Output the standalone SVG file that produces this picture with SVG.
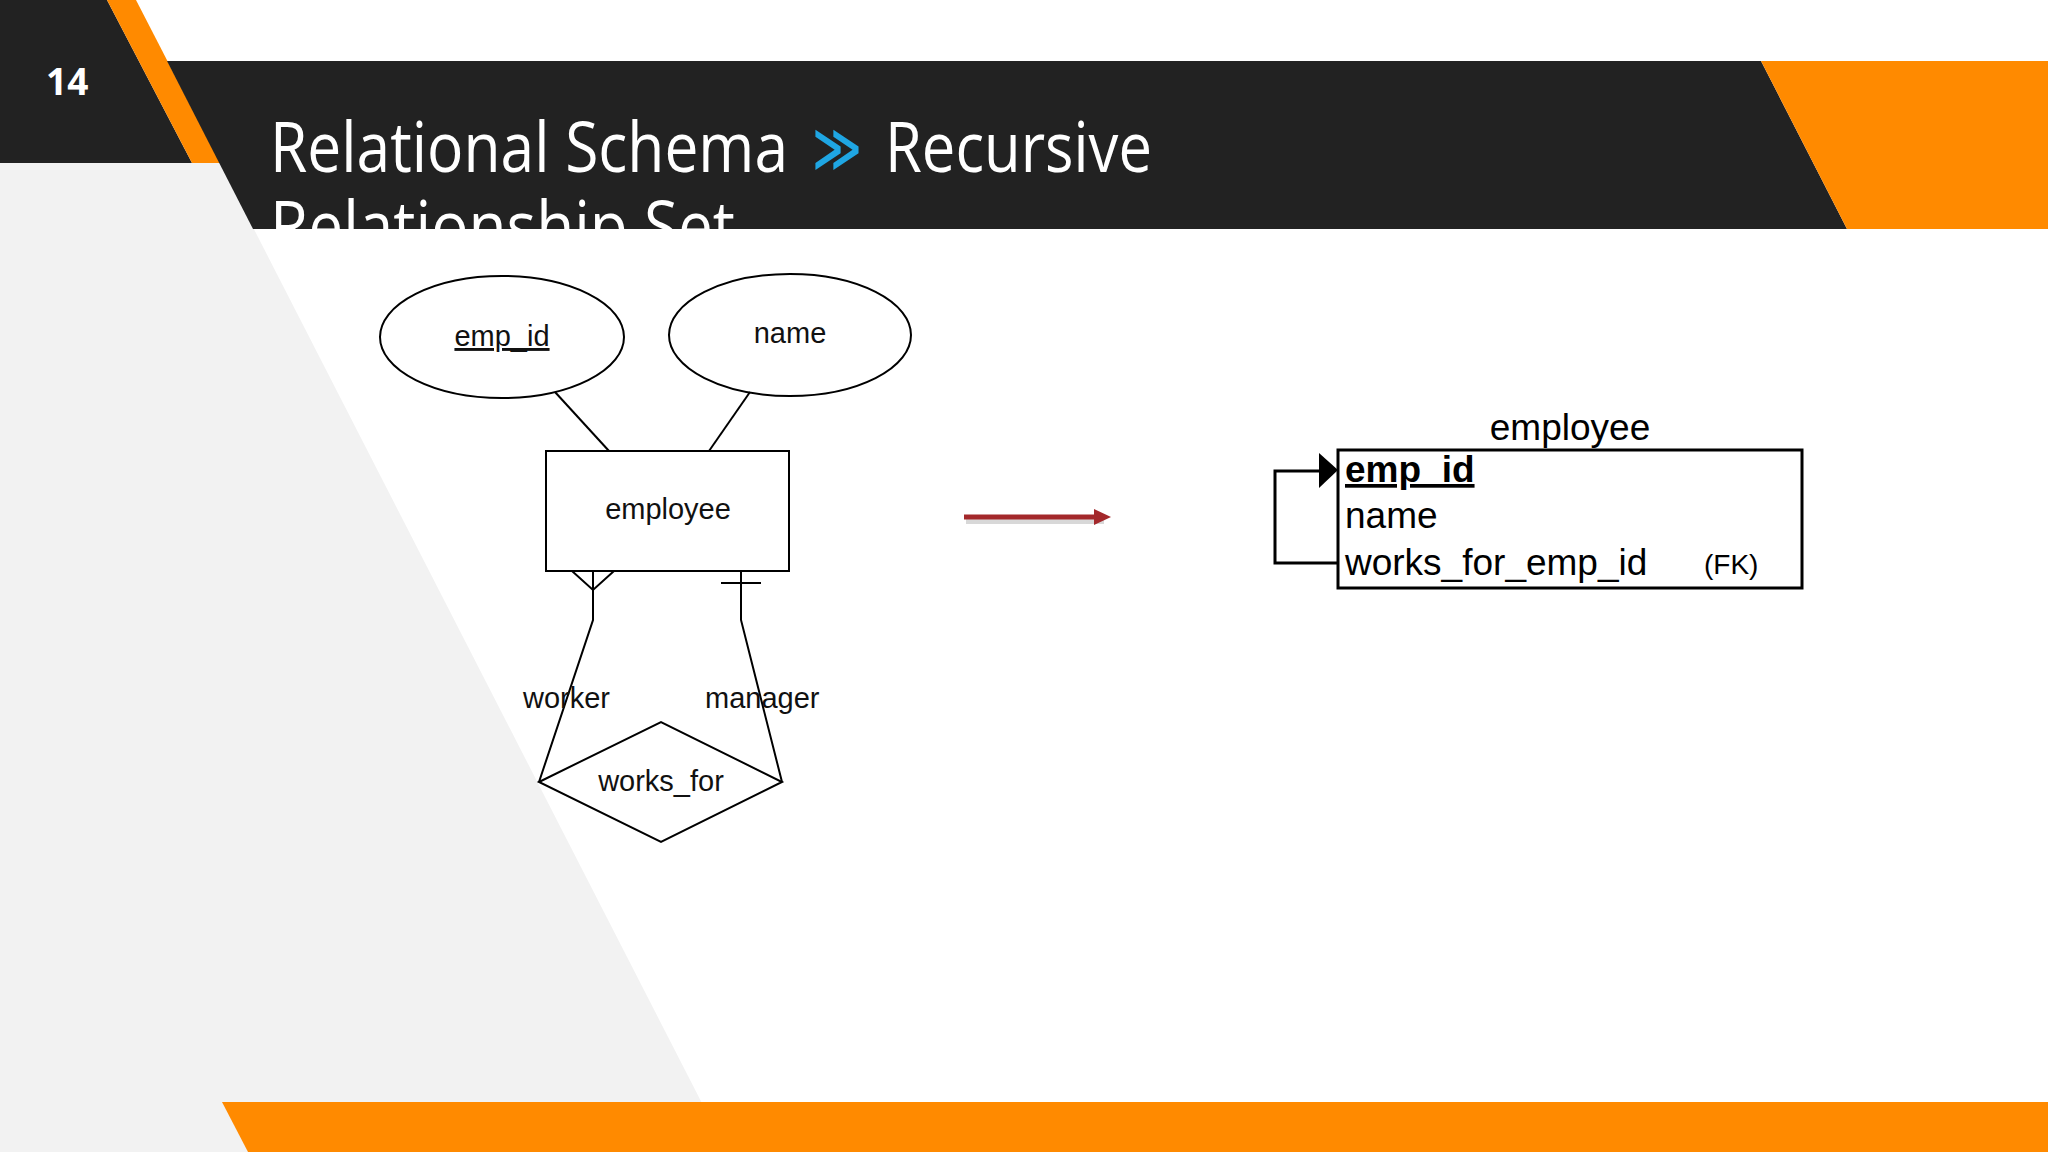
<svg xmlns="http://www.w3.org/2000/svg" width="2048" height="1152" viewBox="0 0 2048 1152">
<defs>
<style>
.er{fill:none;stroke:#000;stroke-width:2}
.ert{font-family:"Liberation Sans",Arial,sans-serif;font-size:29px;fill:#111}
.rt{font-family:"Liberation Sans",Arial,sans-serif;font-size:37px;fill:#000}
.title{font-family:"Open Sans","Noto Sans",sans-serif;font-size:70px;fill:#fff}
</style>
<clipPath id="bandclip"><polygon points="167,61 1761,61 1847,229 253,229"/></clipPath>
</defs>
<g id="background">
<rect x="0" y="0" width="2048" height="1152" fill="#fff"/>
<polygon points="0,163 220,163 727,1152 0,1152" fill="#f2f2f2"/>
<polygon points="0,0 107,0 192,163 0,163" fill="#222"/>
<polygon points="107,0 136,0 220,163 192,163" fill="#ff8a00"/>
<polygon points="167,61 1761,61 1847,229 253,229" fill="#222"/>
<polygon points="1761,61 2048,61 2048,229 1847,229" fill="#ff8a00"/>
<polygon points="222,1102 2048,1102 2048,1152 248,1152" fill="#ff8a00"/>
</g>
<g id="header">
<text x="46" y="95" font-family="'Open Sans','Noto Sans',sans-serif" font-weight="bold" font-size="37" fill="#fff">14</text>
<g clip-path="url(#bandclip)">
<text class="title" x="270" y="172" textLength="518" lengthAdjust="spacingAndGlyphs">Relational Schema</text>
<text x="812" y="168" font-family="'DejaVu Sans',sans-serif" font-weight="bold" font-size="58" fill="#1fa6e3" textLength="50" lengthAdjust="spacingAndGlyphs">≫</text>
<text class="title" x="885" y="172" textLength="267" lengthAdjust="spacingAndGlyphs">Recursive</text>
<text class="title" x="270" y="251" textLength="465" lengthAdjust="spacingAndGlyphs">Relationship Set</text>
</g>
</g>
<g id="connectors">
<line class="er" x1="555" y1="392" x2="609" y2="451"/>
<line class="er" x1="750" y1="392" x2="709" y2="451"/>
<polyline class="er" points="572,571 593,590 614,571"/>
<polyline class="er" points="593,571 593,620 539,782"/>
<polyline class="er" points="741,571 741,620 782,782"/>
<line class="er" x1="721" y1="583" x2="761" y2="583"/>
<line x1="966" y1="521" x2="1104" y2="521" stroke="#d8d8d8" stroke-width="6"/>
<line x1="964" y1="517" x2="1098" y2="517" stroke="#a3282b" stroke-width="5"/>
<polygon points="1094,509 1111,517 1094,525" fill="#a3282b"/>
<polyline points="1337,563 1275,563 1275,471 1322,471" fill="none" stroke="#000" stroke-width="3"/>
<polygon points="1319,453 1338,470 1319,488" fill="#000"/>
</g>
<g id="attr-emp_id">
<ellipse class="er" cx="502" cy="337" rx="122" ry="61"/>
<text class="ert" x="502" y="346" text-anchor="middle" text-decoration="underline">emp_id</text>
</g>
<g id="attr-name">
<ellipse class="er" cx="790" cy="335" rx="121" ry="61"/>
<text class="ert" x="790" y="343" text-anchor="middle">name</text>
</g>
<g id="entity-employee">
<rect class="er" x="546" y="451" width="243" height="120"/>
<text class="ert" x="668" y="519" text-anchor="middle">employee</text>
</g>
<g id="rel-works_for">
<polygon class="er" points="539,782 661,722 782,782 661,842"/>
<text class="ert" x="661" y="791" text-anchor="middle">works_for</text>
</g>
<g id="role-labels">
<text class="ert" x="523" y="708">worker</text>
<text class="ert" x="705" y="708">manager</text>
</g>
<g id="table-employee">
<text class="rt" x="1570" y="440" text-anchor="middle">employee</text>
<rect x="1338" y="450" width="464" height="138" fill="none" stroke="#000" stroke-width="3"/>
<text class="rt" x="1345" y="482" font-weight="bold" text-decoration="underline">emp_id</text>
<text class="rt" x="1345" y="528">name</text>
<text class="rt" x="1345" y="575">works_for_emp_id</text>
<text x="1704" y="574" font-family="'Liberation Sans',Arial,sans-serif" font-size="28" fill="#000">(FK)</text>
</g>
</svg>
